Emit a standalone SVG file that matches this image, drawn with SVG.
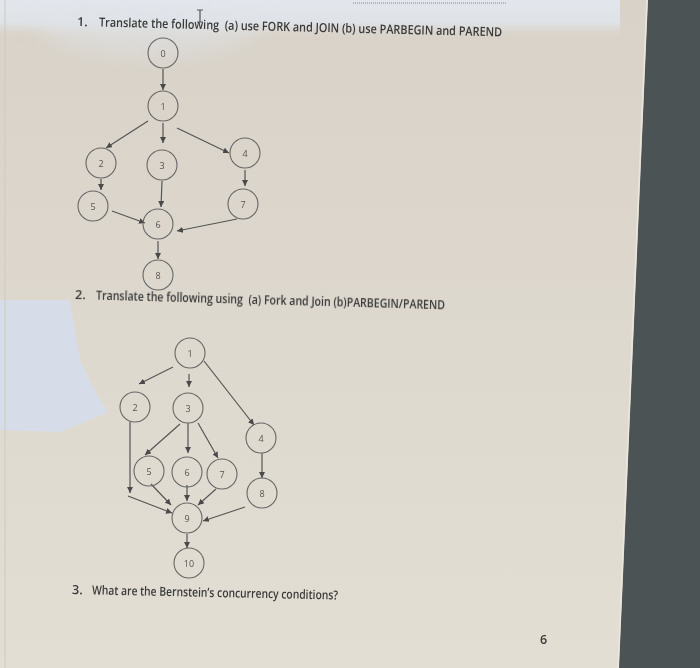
<svg xmlns="http://www.w3.org/2000/svg" width="700" height="668" viewBox="0 0 700 668">
<defs>
<linearGradient id="paper" x1="0" y1="0" x2="0" y2="1">
<stop offset="0" stop-color="#d8d2c8"/>
<stop offset="1" stop-color="#e3ded4"/>
</linearGradient>
<linearGradient id="topband" x1="0" y1="0" x2="0" y2="1">
<stop offset="0" stop-color="#e3e7ed"/>
<stop offset="0.6" stop-color="#dfe2e6"/>
<stop offset="1" stop-color="#dcd8d0" stop-opacity="0"/>
</linearGradient>
<filter id="blur" x="-30%" y="-30%" width="160%" height="160%"><feGaussianBlur stdDeviation="10"/></filter>
<filter id="soft"><feGaussianBlur stdDeviation="0.35"/></filter>
<marker id="ah" markerUnits="userSpaceOnUse" markerWidth="6" markerHeight="6" refX="6" refY="3" orient="auto">
<path d="M0,0 L6,3 L0,6 z" fill="#4a4a4a"/>
</marker>
<style>
.node circle{fill:none;stroke:#666;stroke-width:1.1}
.node text{font-family:"Open Sans","Liberation Sans",sans-serif;font-size:9px;fill:#555;text-anchor:middle;dominant-baseline:central}
.edge{stroke:#555;stroke-width:1.2;fill:none;marker-end:url(#ah)}
.q{font-family:"Open Sans","Liberation Sans",sans-serif;font-size:12.5px;font-weight:600;fill:#3a3a3a}
</style>
</defs>
<!-- background photo -->
<rect width="700" height="668" fill="url(#paper)"/>
<rect x="0" y="0" width="620" height="38" fill="url(#topband)"/>
<ellipse cx="150" cy="25" rx="110" ry="30" fill="#e0e4ea" opacity="0.5" filter="url(#blur)"/>
<path d="M0,300 L70,300 L80,360 L100,400 L108,412 L90,420 L60,432 L0,430 Z" fill="#d6dde8"/>
<line x1="5" y1="0" x2="5" y2="668" stroke="#cfc9bf" stroke-width="1"/>
<polygon points="648,0 700,0 700,668 619,668" fill="#4c5355"/>
<line x1="647" y1="0" x2="618" y2="668" stroke="#ebe6dc" stroke-width="1.5"/>
<line x1="353" y1="3" x2="507" y2="3" stroke="#8a8680" stroke-width="1.2" stroke-dasharray="1 1"/>

<g filter="url(#soft)">
<!-- questions -->
<g id="q1" transform="rotate(1.4 77 26)">
<text class="q" x="77" y="26">1.</text>
<text class="q" x="99" y="26" xml:space="preserve" textLength="403" lengthAdjust="spacingAndGlyphs">Translate the following  (a) use FORK and JOIN (b) use PARBEGIN and PAREND</text>
</g>
<path d="M197,10 L203,10 M200,10 L200,22 M197,22 L203,22" stroke="#555" stroke-width="1.2" fill="none"/>
<g id="q2" transform="rotate(1.6 75 299)">
<text class="q" x="75" y="299">2.</text>
<text class="q" x="96" y="299" xml:space="preserve" textLength="349" lengthAdjust="spacingAndGlyphs">Translate the following using  (a) Fork and Join (b)PARBEGIN/PAREND</text>
</g>
<g id="q3" transform="rotate(1.2 72 594)">
<text class="q" x="72" y="594">3.</text>
<text class="q" x="92" y="594" textLength="246" lengthAdjust="spacingAndGlyphs">What are the Bernstein’s concurrency conditions?</text>
</g>
<text id="page" class="q" x="540" y="644" font-size="12" font-weight="400">6</text>

<!-- diagram 1 connectors -->
<g id="edges1">
<path class="edge" d="M163,69 L163,90"/>
<path class="edge" d="M148,121 L106,148"/>
<path class="edge" d="M163,123 L163,143"/>
<path class="edge" d="M177,128 L229,153"/>
<path class="edge" d="M101,179 L101,190"/>
<path class="edge" d="M162,181 L161,207"/>
<path class="edge" d="M112,211 L145,223"/>
<path class="edge" d="M245,170 L245,186"/>
<path class="edge" d="M237,219 L177,231"/>
<path class="edge" d="M158,241 L158,259"/>
</g>
<g id="d1n0" class="node"><circle cx="163" cy="53" r="15"/><text x="163" y="53">0</text></g>
<g id="d1n1" class="node"><circle cx="163" cy="106" r="15"/><text x="163" y="106">1</text></g>
<g id="d1n2" class="node"><circle cx="101" cy="163" r="15"/><text x="101" y="163">2</text></g>
<g id="d1n3" class="node"><circle cx="162" cy="165" r="15"/><text x="162" y="165">3</text></g>
<g id="d1n4" class="node"><circle cx="245" cy="153" r="15"/><text x="245" y="153">4</text></g>
<g id="d1n5" class="node"><circle cx="93" cy="206" r="15"/><text x="93" y="206">5</text></g>
<g id="d1n6" class="node"><circle cx="158" cy="224" r="15"/><text x="158" y="224">6</text></g>
<g id="d1n7" class="node"><circle cx="243" cy="204" r="15"/><text x="243" y="204">7</text></g>
<g id="d1n8" class="node"><circle cx="158" cy="275" r="15"/><text x="158" y="275">8</text></g>

<!-- diagram 2 connectors -->
<g id="edges2">
<path class="edge" d="M173,367 L139,384"/>
<path class="edge" d="M189,374 L189,387"/>
<path class="edge" d="M204,361 L254,425"/>
<path class="edge" d="M130,422 L130,493"/>
<path class="edge" d="M128,496 L172,513"/>
<path class="edge" d="M180,424 L145,455"/>
<path class="edge" d="M188,423 L188,453"/>
<path class="edge" d="M198,423 L218,458"/>
<path class="edge" d="M262,453 L262,478"/>
<path class="edge" d="M151,484 L171,505"/>
<path class="edge" d="M187,485 L187,501"/>
<path class="edge" d="M216,489 L198,505"/>
<path class="edge" d="M245,507 L203,521"/>
<path class="edge" d="M187,534 L187,548"/>
</g>
<g id="d2n1" class="node"><circle cx="190" cy="353" r="15"/><text x="190" y="353">1</text></g>
<g id="d2n2" class="node"><circle cx="135" cy="407" r="15"/><text x="135" y="407">2</text></g>
<g id="d2n3" class="node"><circle cx="188" cy="408" r="15"/><text x="188" y="408">3</text></g>
<g id="d2n4" class="node"><circle cx="261" cy="438" r="15"/><text x="261" y="438">4</text></g>
<g id="d2n5" class="node"><circle cx="149" cy="471" r="15"/><text x="149" y="471">5</text></g>
<g id="d2n6" class="node"><circle cx="187" cy="472" r="15"/><text x="187" y="472">6</text></g>
<g id="d2n7" class="node"><circle cx="222" cy="474" r="15"/><text x="222" y="474">7</text></g>
<g id="d2n8" class="node"><circle cx="262" cy="493" r="15"/><text x="262" y="493">8</text></g>
<g id="d2n9" class="node"><circle cx="187" cy="518" r="15"/><text x="187" y="518">9</text></g>
<g id="d2n10" class="node"><circle cx="189" cy="563" r="15"/><text x="189" y="563">10</text></g>
</g>
</svg>
